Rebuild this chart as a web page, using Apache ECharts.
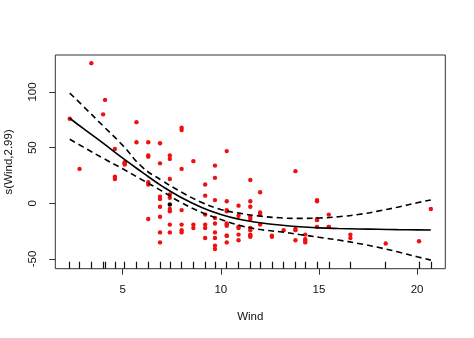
<!DOCTYPE html>
<html>
<head>
<meta charset="utf-8">
<script src="https://cdn.jsdelivr.net/npm/echarts@6/dist/echarts.min.js"></script>
<style>
  html, body { margin: 0; padding: 0; background: #fff; }
  #chart { width: 474px; height: 338px; }
</style>
</head>
<body>
<div id="chart"></div>
<script>
// Partial residuals of the Wind smooth (one entry per observation)
const wind = [
  7.4, 8.0, 12.6, 11.5, 14.9, 8.6, 13.8, 20.1, 6.9, 9.7,
  9.2, 10.9, 13.2, 11.5, 12.0, 18.4, 11.5, 9.7, 9.7, 16.6,
  9.7, 12.0, 12.0, 14.9, 5.7, 7.4, 9.7, 13.8, 11.5, 8.0,
  14.9, 20.7, 9.2, 11.5, 10.3, 4.1, 9.2, 9.2, 4.6, 10.9,
  5.1, 6.3, 5.7, 7.4, 14.3, 14.9, 14.3, 6.9, 10.3, 6.3,
  5.1, 11.5, 6.9, 8.6, 8.0, 8.6, 12.0, 7.4, 7.4, 7.4,
  9.2, 6.9, 13.8, 7.4, 6.9, 7.4, 4.6, 4.0, 10.3, 8.0,
  11.5, 11.5, 9.7, 10.3, 6.3, 7.4, 10.9, 10.3, 15.5, 14.3,
  9.7, 3.4, 8.0, 9.7, 2.3, 6.3, 6.3, 6.9, 5.1, 2.8,
  4.6, 7.4, 15.5, 10.9, 10.3, 10.9, 9.7, 14.9, 15.5, 6.3,
  10.9, 11.5, 6.9, 13.8, 10.3, 10.3, 8.0, 12.6, 9.2, 10.3,
  10.3, 16.6, 6.9, 14.3, 8.0, 11.5
];
const resid = [
  -1.1, -6.1, -30.1, -24.1, -14.1, -19.1, -23.1, -34.1, -35.1, -26.1,
  -31.1, -28.1, -24.1, -28.1, -8.1, -36.1, -12.1, -31.1, -41.1, -31.1,
  -38.1, -10.1, -19.1, 2.9, 72.9, -5.1, -13.1, 28.9, -3.1, -19.1,
  -21.1, -5.1, -22.1, -30.1, -29.1, 92.9, 6.9, -10.1, 21.9, -2.1,
  34.9, 54.9, 54.9, 42.9, -32.1, -15.1, -35.1, 5.9, -7.1, 18.9,
  36.9, 20.9, -26.1, 37.9, 65.9, -22.1, 9.9, 39.9, 7.9, 21.9,
  16.9, -3.1, -33.1, -26.1, 35.9, -7.1, 23.9, 79.9, 46.9, 67.9,
  1.9, -14.1, 22.9, -20.1, 16.9, -19.1, -11.1, 1.9, -21.1, -33.1,
  2.9, 125.9, 30.9, 33.9, 75.9, 41.9, 42.9, 53.9, 35.9, 30.9,
  48.9, 4.9, -10.1, -22.1, -19.1, -21.1, -18.1, 1.9, -21.1, -14.1,
  -33.1, -29.1, 3.9, -24.1, -29.1, -18.1, -26.1, -29.1, -19.1, -6.1,
  -35.1, -28.1, -12.1, -28.1, -24.1, -22.1
];

// Estimated smooth with its upper / lower confidence limits
const gridWind = [2.3, 3, 4, 5, 6, 7, 8, 9, 10, 11, 12, 13, 14, 15, 16, 17, 18, 19, 20, 20.7];
const fit   = [76.4, 67, 54, 40.5, 27.8, 15.5, 5, -3.5, -10, -14.5, -17.5, -19.5, -21, -22, -22.6, -23, -23.3, -23.6, -23.8, -24];
const upper = [99, 87, 69.5, 52, 32.5, 20.5, 10, 1, -5.5, -9, -11.5, -13, -13.5, -13.2, -12, -10, -7, -3.5, 0.5, 3];
const lower = [57.5, 50.5, 40.5, 31, 21, 11, 0.5, -8, -14.5, -20, -23.5, -25.5, -28, -30.5, -33, -36, -39.5, -43.5, -48, -51];

const xTicks = [5, 10, 15, 20];
const yTicks = [-50, 0, 50, 100];

const xMin = 1.564, xMax = 21.436;
const yMin = -58.7, yMax = 133.2;

const FONT = '"Liberation Sans", Arial, Helvetica, sans-serif';
const RED = '#ee1111';

// Rug: one tick per distinct Wind value
const rug = Array.from(new Set(wind)).sort((a, b) => a - b);

const points = wind.map((w, i) => [w, resid[i]]);
const pair = (arr) => gridWind.map((w, i) => [w, arr[i]]);

const chart = echarts.init(document.getElementById('chart'), null, { renderer: 'canvas' });

chart.setOption({
  animation: false,
  backgroundColor: '#fff',
  grid: {
    left: 55.3, right: 28.7, top: 55, bottom: 69.3,
    outerBoundsMode: 'none', containLabel: false,
    show: true, borderColor: '#333', borderWidth: 1, backgroundColor: 'transparent'
  },
  xAxis: [
    {
      type: 'value', min: xMin, max: xMax, position: 'bottom',
      name: 'Wind', nameLocation: 'middle', nameGap: 42,
      nameTextStyle: { fontFamily: FONT, fontSize: 11.5, color: '#111' },
      axisLine: { show: false, onZero: false },
      axisTick: { show: true, length: 6, customValues: xTicks, lineStyle: { color: '#333', width: 1 } },
      axisLabel: { show: true, customValues: xTicks, margin: 15, fontFamily: FONT, fontSize: 11.5, color: '#111' },
      splitLine: { show: false }
    },
    {
      type: 'value', min: xMin, max: xMax, position: 'bottom', offset: 0,
      axisLine: { show: false, onZero: false },
      axisTick: { show: true, inside: true, length: 7, customValues: rug, lineStyle: { color: '#111', width: 1.2 } },
      axisLabel: { show: false },
      splitLine: { show: false }
    }
  ],
  yAxis: {
    type: 'value', min: yMin, max: yMax,
    name: 's(Wind,2.99)', nameLocation: 'middle', nameGap: 40,
    nameTextStyle: { fontFamily: FONT, fontSize: 11.5, color: '#111' },
    axisLine: { show: false, onZero: false },
    axisTick: { show: true, length: 6, customValues: yTicks, lineStyle: { color: '#333', width: 1 } },
    axisLabel: { show: true, customValues: yTicks, rotate: 90, margin: 16, fontFamily: FONT, fontSize: 11.5, color: '#111' },
    splitLine: { show: false }
  },
  series: [
    {
      type: 'scatter', data: points, symbol: 'circle', symbolSize: 4.4,
      itemStyle: { opacity: 1, color: (p) => (p.dataIndex === 0 ? '#000' : RED) },
      z: 2
    },
    {
      type: 'line', data: pair(fit), smooth: true, showSymbol: false,
      lineStyle: { color: '#000', width: 1.6 }, z: 3
    },
    {
      type: 'line', data: pair(upper), smooth: true, showSymbol: false,
      lineStyle: { color: '#000', width: 1.6, type: [6, 4] }, z: 3
    },
    {
      type: 'line', data: pair(lower), smooth: true, showSymbol: false,
      lineStyle: { color: '#000', width: 1.6, type: [6, 4] }, z: 3
    }
  ]
});
</script>
</body>
</html>
